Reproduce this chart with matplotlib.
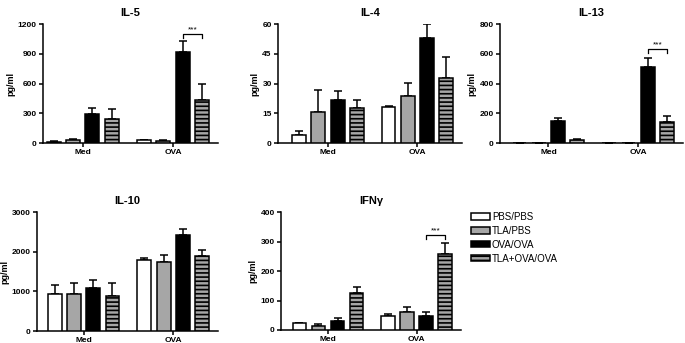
import matplotlib
matplotlib.use("Agg")
import matplotlib.pyplot as plt
from matplotlib.patches import Patch

plt.rcParams['font.family'] = ['Liberation Sans', 'DejaVu Sans']
plt.rcParams['hatch.linewidth'] = 1.2

W, H = 685, 343

groups = ['Med', 'OVA']
series = ['PBS/PBS', 'TLA/PBS', 'OVA/OVA', 'TLA+OVA/OVA']

# values per series: [Med, OVA]
il5_mean = [[15, 32], [35, 23], [295, 920], [240, 432]]
il5_err = [[5, 3], [5, 3], [57, 108], [105, 162]]

il4_mean = [[4.2, 17.9], [15.4, 23.5], [21.8, 53.1], [17.4, 32.7]]
il4_err = [[1.7, 1.0], [11.1, 7.0], [4.2, 6.7], [4.4, 10.9]]

il13_mean = [[1, 2], [3, 2], [150, 514], [22, 139]]
il13_err = [[0, 0], [0, 0], [18, 56], [5, 40]]

il10_mean = [[922, 1802], [922, 1743], [1073, 2413], [888, 1885]]
il10_err = [[234, 50], [276, 167], [209, 168], [310, 168]]

ifng_mean = [[22.5, 48], [13.5, 62], [30, 47], [127, 259]]
ifng_err = [[0, 6], [6.5, 17], [9, 15], [20, 37]]

fills = ['white', '#a6a6a6', 'black', '#a6a6a6']
hatches = [None, None, None, '----']

step = 0.215
width = 0.155
lw = 1.1


def px_axes(fig, x0, x1, ytop, ybot):
    return fig.add_axes([x0 / W, 1 - ybot / H, (x1 - x0) / W, (ybot - ytop) / H])


def draw_panel(ax, title, means, errs, ymax, yticks, xleft, sig=None):
    for i in range(len(series)):
        xs = [g + (i - 1.5) * step for g in range(len(groups))]
        ax.bar(xs, means[i], width=width, color=fills[i], edgecolor='black',
               linewidth=lw, hatch=hatches[i], zorder=3)
        ax.errorbar(xs, means[i], yerr=[[0] * len(groups), errs[i]], fmt='none',
                    ecolor='black', elinewidth=lw, capsize=3.2, capthick=lw, zorder=2)
    ax.set_xlim(xleft, 1.5)
    ax.set_ylim(0, ymax)
    ax.set_yticks(yticks)
    ax.set_yticklabels([str(t) for t in yticks], fontsize=6, fontweight='bold')
    ax.set_xticks(range(len(groups)))
    ax.set_xticklabels(groups, fontsize=6, fontweight='bold')
    ax.tick_params(axis='both', length=3, width=lw, pad=1.5)
    for s in ['top', 'right']:
        ax.spines[s].set_visible(False)
    for s in ['left', 'bottom']:
        ax.spines[s].set_linewidth(lw)
    ax.set_ylabel('pg/ml', fontsize=6.5, fontweight='bold', labelpad=2)
    ax.set_title(title, fontsize=8, fontweight='bold', pad=6)
    if sig is not None:
        y, d = sig
        x1 = 1 + 0.5 * step
        x2 = 1 + 1.5 * step
        ax.plot([x1, x1, x2, x2], [y - d, y, y, y - d], color='black',
                linewidth=0.9, clip_on=False, zorder=4)
        ax.text((x1 + x2) / 2, y + d * 0.2, '***', ha='center', va='bottom',
                fontsize=6)


fig = plt.figure(figsize=(W / 100, H / 100), dpi=100)

ax1 = px_axes(fig, 43, 218, 24, 143)
draw_panel(ax1, 'IL-5', il5_mean, il5_err, 1200, [0, 300, 600, 900, 1200], -0.44,
           sig=(1096, 40))

ax2 = px_axes(fig, 278, 462, 24, 143)
draw_panel(ax2, 'IL-4', il4_mean, il4_err, 60, [0, 15, 30, 45, 60], -0.56)

ax3 = px_axes(fig, 500, 683, 24, 143)
draw_panel(ax3, 'IL-13', il13_mean, il13_err, 800, [0, 200, 400, 600, 800], -0.54,
           sig=(630, 27))

ax4 = px_axes(fig, 37, 218, 212, 331)
draw_panel(ax4, 'IL-10', il10_mean, il10_err, 3000, [0, 1000, 2000, 3000], -0.52)

ax5 = px_axes(fig, 281, 461, 212, 330)
draw_panel(ax5, 'IFN\u03b3', ifng_mean, ifng_err, 400, [0, 100, 200, 300, 400], -0.53,
           sig=(323, 13))

handles = [Patch(facecolor=fills[i], edgecolor='black', linewidth=lw, hatch=hatches[i])
           for i in range(len(series))]
fig.legend(handles, series, loc='upper left', bbox_to_anchor=(471 / W, 1 - 212 / H),
           frameon=False, fontsize=7, handlelength=2.0, handleheight=0.6,
           handletextpad=0.15, labelspacing=0.4, borderpad=0, borderaxespad=0)

fig.savefig('out.png', dpi=100)
